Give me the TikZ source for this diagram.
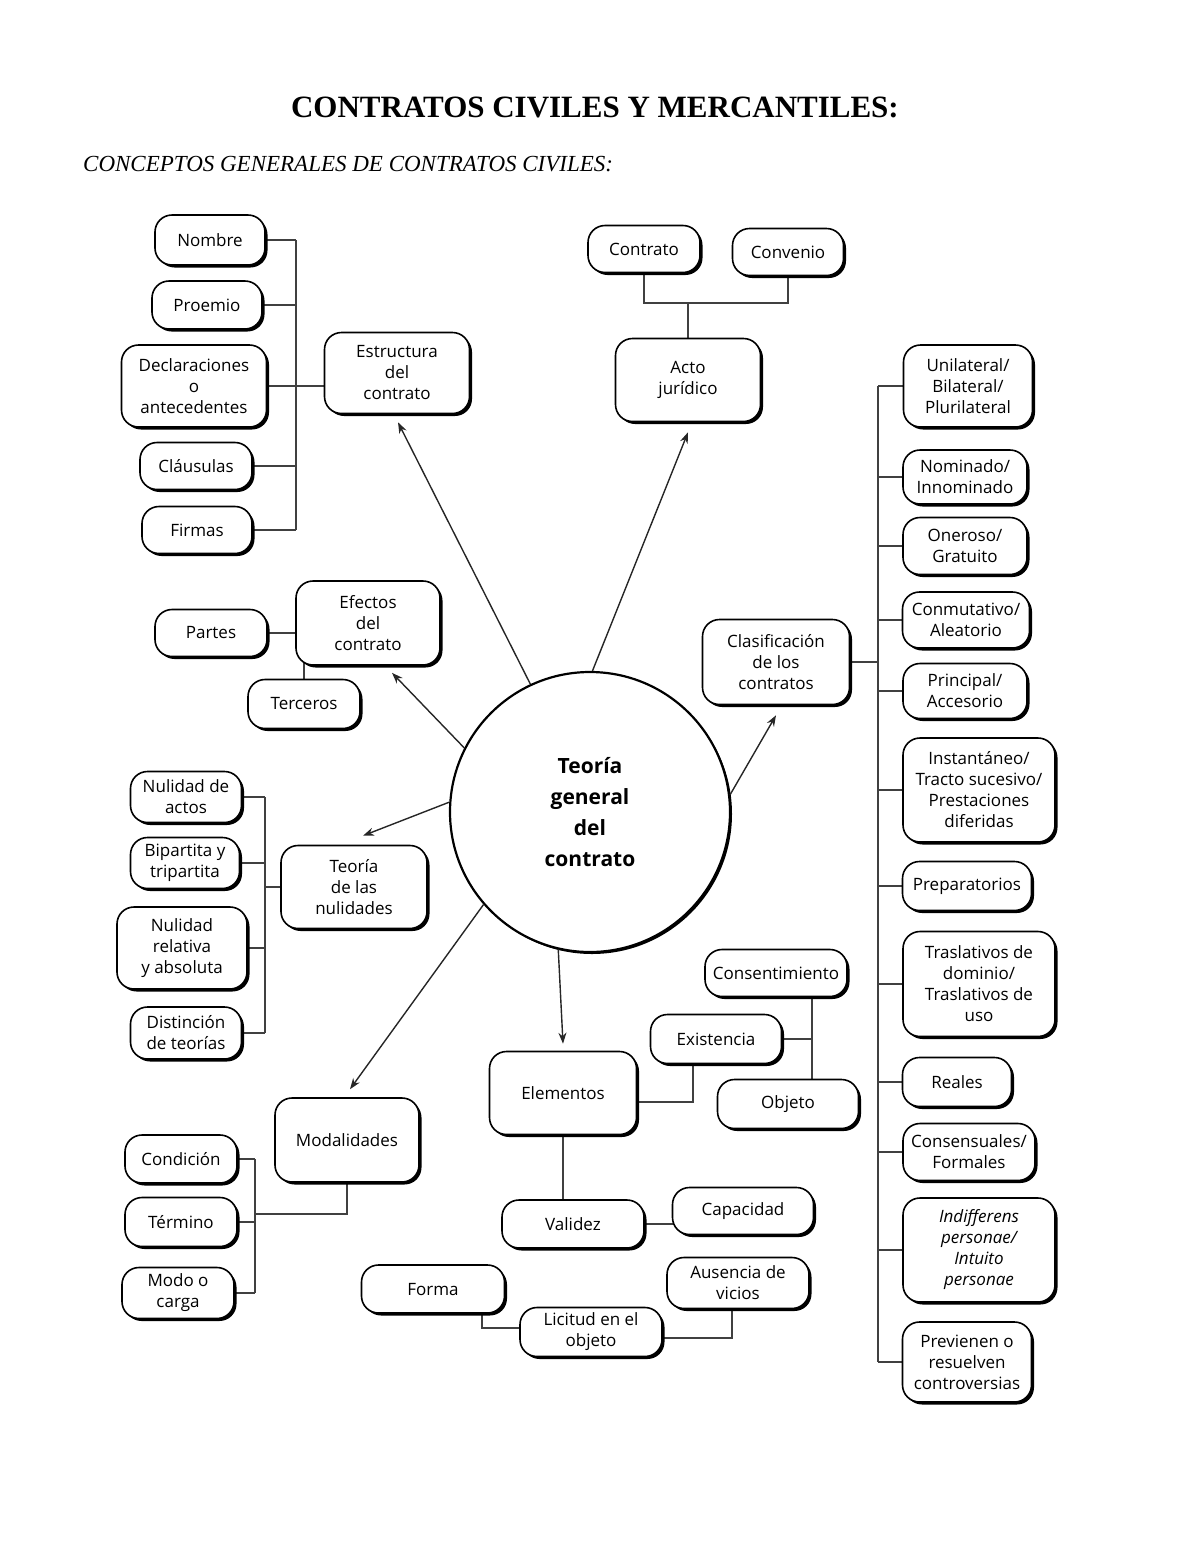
\documentclass[tikz,border=0pt]{standalone}
\usepackage{fontspec}
\setmainfont{Liberation Serif}
\newfontfamily\boxfont{Open Sans}
\usetikzlibrary{shadows,arrows.meta,calc}
\pgfdeclarelayer{background}
\pgfsetlayers{background,main}
\begin{document}
\begin{tikzpicture}[x=1pt,y=-1pt,
  bx/.style={draw=black, line width=1.6pt, rounded corners=17pt, fill=white, align=center, inner sep=2pt,
     font={\boxfont\fontsize{17}{21}\selectfont},
     drop shadow={shadow xshift=2.5pt, shadow yshift=-2.5pt, fill=black, opacity=1}},
  ln/.style={draw=black!75, line width=1.8pt},
  arr/.style={draw=black!85, line width=1.4pt, -{Stealth[length=11pt,width=8pt]}},
]
\useasboundingbox (0,0) rectangle (1200,1553);

% titles
\node[anchor=base, inner sep=0pt, font={\bfseries\fontsize{31}{36}\selectfont}] (title) at (595,117) {CONTRATOS CIVILES Y MERCANTILES:};
\node[anchor=base west, inner sep=0pt, font={\itshape\fontsize{23}{28}\selectfont}] (subtitle) at (83,171) {CONCEPTOS GENERALES DE CONTRATOS CIVILES:};

% central circle
\node[circle, draw=black, line width=2.2pt, fill=white, minimum size=280pt, align=center,
      font={\boxfont\bfseries\fontsize{21}{31}\selectfont},
      drop shadow={shadow xshift=2pt, shadow yshift=-2pt, fill=black, opacity=1}] (circ) at (590,812) {Teoría\\general\\del\\contrato};

% Estructura
\node[bx, minimum width=110pt, minimum height=50pt] (nombre) at (210,240) {Nombre};
\node[bx, minimum width=110pt, minimum height=48pt] (proemio) at (207,305) {Proemio};
\node[bx, minimum width=145pt, minimum height=82pt] (decl) at (194,386) {Declaraciones\\o\\antecedentes};
\node[bx, minimum width=112pt, minimum height=47pt] (clausulas) at (196,466) {Cláusulas};
\node[bx, minimum width=110pt, minimum height=47pt] (firmas) at (197,530) {Firmas};
\node[bx, minimum width=145pt, minimum height=81pt] (estructura) at (397,373) {Estructura\\del\\contrato};

% Acto juridico
\node[bx, minimum width=112pt, minimum height=47pt] (contrato) at (644,249) {Contrato};
\node[bx, minimum width=111pt, minimum height=47pt] (convenio) at (788,252) {Convenio};
\node[bx, minimum width=145pt, minimum height=83pt] (acto) at (688,380) {Acto\\jurídico};

% Clasificacion
\node[bx, minimum width=147pt, minimum height=85pt] (clasif) at (776,662) {Clasificación\\de los\\contratos};
\node[bx, minimum width=129pt, minimum height=82pt] (unilat) at (968,386) {Unilateral/\\Bilateral/\\Plurilateral};
\node[bx, minimum width=124pt, minimum height=54pt] (nominado) at (965,477) {Nominado/\\Innominado};
\node[bx, minimum width=124pt, minimum height=57pt] (oneroso) at (965,546) {Oneroso/\\Gratuito};
\node[bx, minimum width=127pt, minimum height=56pt] (conmut) at (966,620) {Conmutativo/\\Aleatorio};
\node[bx, minimum width=124pt, minimum height=55pt] (principal) at (965,691) {Principal/\\Accesorio};
\node[bx, minimum width=152pt, minimum height=104pt] (instant) at (979,790) {Instantáneo/\\Tracto sucesivo/\\Prestaciones\\diferidas};
\node[bx, minimum width=129pt, minimum height=49pt] (prepar) at (967,886) {Preparatorios};
\node[bx, minimum width=152pt, minimum height=105pt] (traslat) at (979,984) {Traslativos de\\dominio/\\Traslativos de\\uso};
\node[bx, minimum width=109pt, minimum height=49pt] (reales) at (957,1082) {Reales};
\node[bx, minimum width=132pt, minimum height=57pt] (consens) at (969,1152) {Consensuales/\\Formales};
\node[bx, minimum width=152pt, minimum height=104pt] (indif) at (979,1250) {\itshape Indifferens\\\itshape personae/\\\itshape Intuito\\\itshape personae};
\node[bx, minimum width=129pt, minimum height=80pt] (previenen) at (967,1362) {Previenen o\\resuelven\\controversias};

% Efectos
\node[bx, minimum width=144pt, minimum height=84pt] (efectos) at (368,623) {Efectos\\del\\contrato};
\node[bx, minimum width=112pt, minimum height=47pt] (partes) at (211,633) {Partes};
\node[bx, minimum width=112pt, minimum height=49pt] (terceros) at (304,704) {Terceros};

% Nulidades
\node[bx, minimum width=146pt, minimum height=83pt] (nulidades) at (354,887) {Teoría\\de las\\nulidades};
\node[bx, minimum width=111pt, minimum height=51pt] (nulactos) at (186,797) {Nulidad de\\actos};
\node[bx, minimum width=109pt, minimum height=51pt] (bipart) at (185,863) {Bipartita y\\tripartita};
\node[bx, minimum width=130pt, minimum height=82pt] (nulrel) at (182,948) {Nulidad\\relativa\\y absoluta};
\node[bx, minimum width=111pt, minimum height=52pt] (distin) at (186,1033) {Distinción\\de teorías};

% Modalidades
\node[bx, minimum width=144pt, minimum height=84pt] (modal) at (347,1140) {Modalidades};
\node[bx, minimum width=112pt, minimum height=48pt] (condicion) at (181,1159) {Condición};
\node[bx, minimum width=112pt, minimum height=49pt] (termino) at (181,1222) {Término};
\node[bx, minimum width=112pt, minimum height=51pt] (modo) at (178,1293) {Modo o\\carga};

% Elementos
\node[bx, minimum width=147pt, minimum height=83pt] (elementos) at (563,1093) {Elementos};
\node[bx, minimum width=142pt, minimum height=47pt] (consent) at (776,973) {Consentimiento};
\node[bx, minimum width=131pt, minimum height=49pt] (existencia) at (716,1039) {Existencia};
\node[bx, minimum width=141pt, minimum height=49pt] (objeto) at (788,1104) {Objeto};
\node[bx, minimum width=142pt, minimum height=48pt] (validez) at (573,1224) {Validez};
\node[bx, minimum width=141pt, minimum height=47pt] (capacidad) at (743,1211) {Capacidad};
\node[bx, minimum width=142pt, minimum height=51pt] (ausencia) at (738,1283) {Ausencia de\\vicios};
\node[bx, minimum width=143pt, minimum height=48pt] (forma) at (433,1289) {Forma};
\node[bx, minimum width=142pt, minimum height=49pt] (licitud) at (591,1332) {Licitud en el\\objeto};

% bus coordinates
\coordinate (bEa) at (296,240);
\coordinate (bEb) at (296,530);
\coordinate (jA) at (688,303);
\coordinate (bCa) at (878,386);
\coordinate (bCb) at (878,1362);
\coordinate (bNa) at (265,797);
\coordinate (bNb) at (265,1033);
\coordinate (bMa) at (255,1159);
\coordinate (bMb) at (255,1293);
\coordinate (jM) at (255,1214);
\coordinate (bXa) at (812,973);
\coordinate (bXb) at (812,1104);

\begin{pgfonlayer}{background}
  % Estructura
  \draw[ln] (bEa) -- (bEb);
  \foreach \n in {nombre,proemio,clausulas,firmas} \draw[ln] (\n) -- (\n -| bEa);
  \draw[ln] (decl.center) -- (decl -| estructura);
  % Acto
  \draw[ln] (contrato) |- (jA) -| (convenio);
  \draw[ln] (jA) -- (acto);
  % Clasificacion
  \draw[ln] (bCa) -- (bCb);
  \foreach \n in {unilat,nominado,oneroso,conmut,principal,instant,prepar,traslat,reales,consens,indif,previenen} \draw[ln] (\n) -- (\n -| bCa);
  \draw[ln] (clasif) -- (clasif -| bCa);
  % Efectos
  \draw[ln] (partes) -- (partes -| efectos);
  \draw[ln] (terceros) -- (terceros |- efectos);
  % Nulidades
  \draw[ln] (bNa) -- (bNb);
  \foreach \n in {nulactos,bipart,nulrel,distin} \draw[ln] (\n) -- (\n -| bNa);
  \draw[ln] (nulidades) -- (nulidades -| bNa);
  % Modalidades
  \draw[ln] (bMa) -- (bMb);
  \foreach \n in {condicion,termino,modo} \draw[ln] (\n) -- (\n -| bMa);
  \draw[ln] (modal) |- (jM);
  % Elementos
  \draw[ln] ($(elementos)+(0,9)$) -| ($(existencia)+(-23,0)$);
  \draw[ln] (existencia) -- (existencia -| bXa);
  \draw[ln] (bXa) -- (bXb);
  \draw[ln] (elementos) -- (elementos |- validez);
  \draw[ln] (validez) -- (validez -| capacidad);
  \draw[ln] (capacidad) -- (capacidad -| ausencia);
  \draw[ln] ($(ausencia)+(-6,0)$) |- ($(licitud)+(0,6)$);
  \draw[ln] ($(forma)+(49,0)$) |- ($(licitud)+(0,-4)$);
\end{pgfonlayer}

% arrows from the circle
\draw[arr] (circ.115) -- ($(estructura.south)+(1,8)$);
\draw[arr] (circ.89) -- ($(acto.south)+(0,10)$);
\draw[arr] (circ.153) -- ($(efectos.south)+(24,7)$);
\draw[arr] (circ.7.5) -- ($(clasif.south)+(0,10)$);
\draw[arr] (circ.176) -- ($(nulidades.north)+(9,-9)$);
\draw[arr] (circ.221) -- ($(modal.north)+(3,-8)$);
\draw[arr] (circ.257) -- ($(elementos.north)+(0,-7)$);
\end{tikzpicture}
\end{document}
